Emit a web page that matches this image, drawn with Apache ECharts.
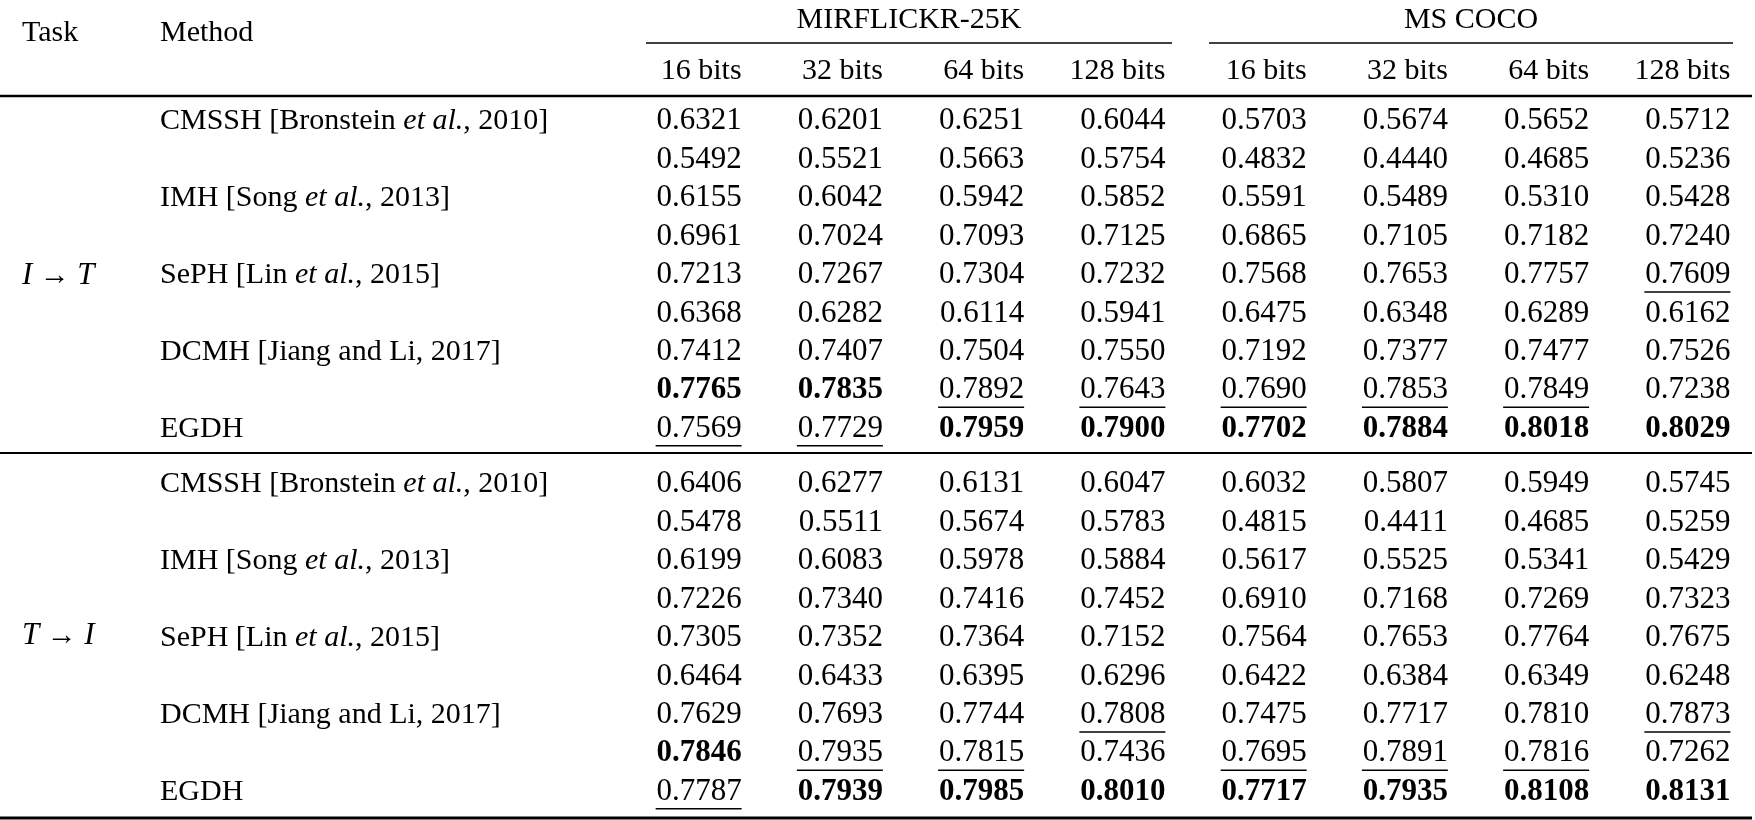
<!DOCTYPE html>
<html><head><meta charset="utf-8">
<script src="https://cdn.jsdelivr.net/npm/echarts@6/dist/echarts.min.js"></script>
<style>html,body{margin:0;padding:0;background:#fff}#c{width:1755px;height:820px}</style>
</head><body><div id="c"></div>
<script>
const columns = ['16 bits','32 bits','64 bits','128 bits','16 bits','32 bits','64 bits','128 bits'];
const datasets = ['MIRFLICKR-25K','MS COCO'];
const methods = ['CMSSH [Bronstein {i|et al.}, 2010]','CVH [Kumar and Udupa, 2011]','IMH [Song {i|et al.}, 2013]','SCM [Zhang and Li, 2014]','SePH [Lin {i|et al.}, 2015]','CCQ [Long {i|et al.}, 2016]','DCMH [Jiang and Li, 2017]','SSAH [Li {i|et al.}, 2018]','EGDH'];
const valuesIT = [
 ['0.6321','0.6201','0.6251','0.6044','0.5703','0.5674','0.5652','0.5712'],
 ['0.5492','0.5521','0.5663','0.5754','0.4832','0.4440','0.4685','0.5236'],
 ['0.6155','0.6042','0.5942','0.5852','0.5591','0.5489','0.5310','0.5428'],
 ['0.6961','0.7024','0.7093','0.7125','0.6865','0.7105','0.7182','0.7240'],
 ['0.7213','0.7267','0.7304','0.7232','0.7568','0.7653','0.7757','0.7609'],
 ['0.6368','0.6282','0.6114','0.5941','0.6475','0.6348','0.6289','0.6162'],
 ['0.7412','0.7407','0.7504','0.7550','0.7192','0.7377','0.7477','0.7526'],
 ['0.7765','0.7835','0.7892','0.7643','0.7690','0.7853','0.7849','0.7238'],
 ['0.7569','0.7729','0.7959','0.7900','0.7702','0.7884','0.8018','0.8029']];
const valuesTI = [
 ['0.6406','0.6277','0.6131','0.6047','0.6032','0.5807','0.5949','0.5745'],
 ['0.5478','0.5511','0.5674','0.5783','0.4815','0.4411','0.4685','0.5259'],
 ['0.6199','0.6083','0.5978','0.5884','0.5617','0.5525','0.5341','0.5429'],
 ['0.7226','0.7340','0.7416','0.7452','0.6910','0.7168','0.7269','0.7323'],
 ['0.7305','0.7352','0.7364','0.7152','0.7564','0.7653','0.7764','0.7675'],
 ['0.6464','0.6433','0.6395','0.6296','0.6422','0.6384','0.6349','0.6248'],
 ['0.7629','0.7693','0.7744','0.7808','0.7475','0.7717','0.7810','0.7873'],
 ['0.7846','0.7935','0.7815','0.7436','0.7695','0.7891','0.7816','0.7262'],
 ['0.7787','0.7939','0.7985','0.8010','0.7717','0.7935','0.8108','0.8131']];
// per row: B = bold, U = underline, . = plain
const marksIT = ['........','........','........','........','.......U','........','........','BBUUUUU.','UUBBBBBB'];
const marksTI = ['........','........','........','........','........','........','...U...U','BUU.UUU.','UBBBBBBB'];

const FONT = 'Liberation Serif', FS = 31;
const chart = echarts.init(document.getElementById('c'));
function cells(vals, marks){
  const out=[];
  vals.forEach((r,ri)=>r.forEach((v,ci)=>out.push({value:[ci, ri], txt:v, mark:marks[ri][ci]})));
  return out;
}
const cellsIT = cells(valuesIT, marksIT), cellsTI = cells(valuesTI, marksTI);
function makeRender(list){
  return function(params, api){
    const d = list[params.dataIndex];
    const p = api.coord([api.value(0), api.value(1)]);
    const xr = p[0]+46;
    const ch = [{type:'text', style:{text:d.txt, x:xr, y:p[1], align:'right', verticalAlign:'middle',
        font:(d.mark==='B'?'bold ':'')+FS+'px "'+FONT+'"', fill:'#000'}}];
    if(d.mark==='U') ch.push({type:'line', shape:{x1:xr-86,y1:p[1]+17,x2:xr,y2:p[1]+17}, style:{stroke:'#000',lineWidth:1.5}});
    return {type:'group', children:ch};
  };
}
const cats = columns.map((c,i)=>String(i));
const grids = [{left:625,width:1130,top:102,height:346},{left:625,width:1130,top:465,height:346}];
const xAxes = grids.map((g,gi)=>({gridIndex:gi,type:'category',data:cats,position:'top',
  axisLine:{show:false},axisTick:{show:false},
  axisLabel:{show:gi===0,margin:16,formatter:(v)=>'{a|'+columns[+v]+'}',
    rich:{a:{width:92,align:'right',fontFamily:FONT,fontSize:FS-1,color:'#000'}}}}));
const yAxes = grids.map((g,gi)=>({gridIndex:gi,type:'category',data:methods,inverse:true,
  axisLine:{show:false},axisTick:{show:false},
  axisLabel:{align:'left',margin:465,color:'#000',fontFamily:FONT,fontSize:FS-1,
    rich:{i:{fontStyle:'italic',fontFamily:FONT,fontSize:FS-1,color:'#000'}}}}));
const rule=(y,x1,x2,w)=>({type:'line',shape:{x1,y1:y,x2,y2:y},style:{stroke:'#000',lineWidth:w}});
const txt=(t,x,y,align,rich)=>({type:'text',style:{text:t,x,y,align,verticalAlign:'middle',
  font:(FS-1)+'px "'+FONT+'"',fill:'#000',rich:rich||{}}});
const itRich={i:{fontStyle:'italic',fontFamily:FONT,fontSize:FS,fill:'#000'}};
chart.setOption({
  animation:false,
  grid:grids, xAxis:xAxes, yAxis:yAxes,
  series:[
    {type:'custom',xAxisIndex:0,yAxisIndex:0,data:cellsIT,renderItem:makeRender(cellsIT)},
    {type:'custom',xAxisIndex:1,yAxisIndex:1,data:cellsTI,renderItem:makeRender(cellsTI)}
  ],
  graphic:[
    rule(96,0,1752,2.5), rule(453,0,1752,2), rule(818,0,1752,3),
    rule(43,646,1172,1.5), rule(43,1209,1733,1.5),
    txt('Task',22,33,'left'), txt('Method',160,33,'left'),
    txt(datasets[0],909,20,'center'), txt(datasets[1],1471,20,'center'),
    txt('{i|I} → {i|T}',22,276,'left',itRich), txt('{i|T} → {i|I}',22,636,'left',itRich)
  ]
});
</script></body></html>
